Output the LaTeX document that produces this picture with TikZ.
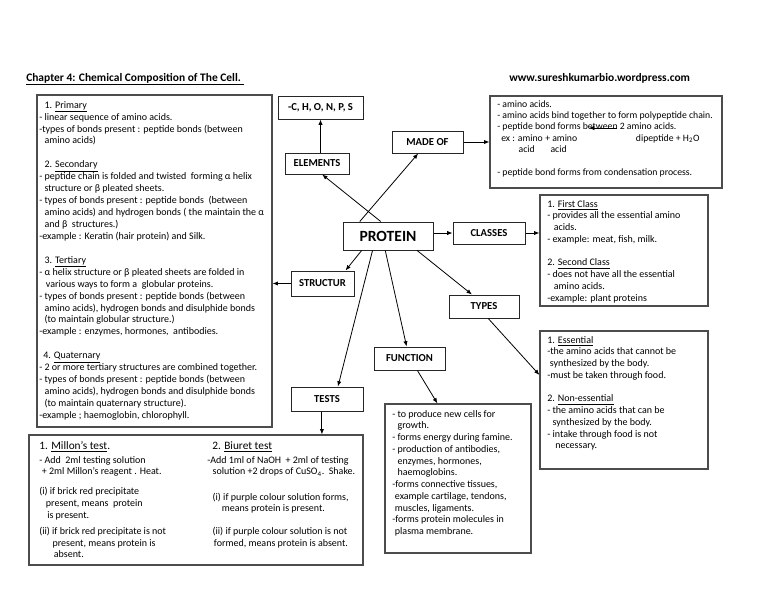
\documentclass[tikz,border=0pt]{standalone}
\usepackage{fontspec}
\setmainfont{Carlito}
\usetikzlibrary{arrows.meta,calc}
\newcommand\mybody{\fontsize{7.5}{8.8}\selectfont}
\newcommand\mystruct{\fontsize{7.5}{8.95}\selectfont}
\newcommand\mysmall{\fontsize{7.3}{8.6}\selectfont}
\tikzset{
  sz/.style 2 args={minimum width=#1*0.75pt, minimum height=#2*0.75pt},
  lbl/.style={draw=black!85, line width=0.75pt, inner sep=0pt, font=\fontsize{8}{9}\selectfont\bfseries},
  tbox/.style={draw=black!70, line width=0.9pt, inner sep=0pt},
  txt/.style={anchor=north west, inner sep=0pt, align=left, font=\mybody},
  arr/.style={line width=0.6pt, -{Latex[length=4pt,width=3.2pt]}},
  hd/.style={anchor=base west, inner sep=0pt, font=\fontsize{8.6}{10}\selectfont\bfseries},
}
\begin{document}
\begin{tikzpicture}[x=0.75pt,y=-0.75pt]
\useasboundingbox (0,0) rectangle (768,594);
\fill[white] (0,0) rectangle (768,594);

% titles
\node[hd] (title) at (26,81) {\underline{Chapter 4: Chemical Composition of The Cell.\ }};
\node[hd] (url) at (509,81) {www.sureshkumarbio.wordpress.com};

% label boxes
\node[lbl, sz={85}{23}] (elemval) at (320.5,107.5) {-C, H, O, N, P, S};
\node[lbl, sz={64}{21}] (elements) at (317,163.5) {ELEMENTS};
\node[lbl, sz={71}{22}] (madeof) at (427.5,142) {MADE OF};
\node[lbl, sz={90}{28}, font=\fontsize{11.7}{13}\selectfont\bfseries] (protein) at (388,236) {PROTEIN};
\node[lbl, sz={72}{22}] (classes) at (489,233) {CLASSES};
\node[lbl, sz={63}{25}] (structur) at (322.5,283.5) {STRUCTUR};
\node[lbl, sz={70}{23}] (types) at (484,306.5) {TYPES};
\node[lbl, sz={71}{23}] (function) at (409.5,358.5) {FUNCTION};
\node[lbl, sz={72}{24}] (tests) at (327,399) {TESTS};

% text boxes
\node[tbox, sz={232}{92}] (madebox) at (606,142) {};
\node[tbox, sz={168}{111}] (classbox) at (624,250.5) {};
\node[tbox, sz={235}{332}] (structbox) at (154.5,261) {};
\node[tbox, sz={168}{138}] (typesbox) at (624,400) {};
\node[tbox, sz={146}{149}] (funcbox) at (458,478.5) {};
\node[tbox, sz={334}{130}] (testsbox) at (196,500) {};

% structure text
\node[txt, font=\mystruct] (structtxt) at (39,101) {%
\hspace*{4pt}1. \underline{Primary}\\
- linear sequence of amino acids.\\
-types of bonds present : peptide bonds (between\\
\hspace*{4pt}amino acids)\\[8.95pt]
\hspace*{4pt}2. \underline{Secondary}\\
- peptide chain is folded and twisted\ \ forming α helix\\
\hspace*{4pt}structure or β pleated sheets.\\
- types of bonds present : peptide bonds\ \ (between\\
\hspace*{4pt}amino acids) and hydrogen bonds ( the maintain the α\\
\hspace*{4pt}and β\ \ structures.)\\
-example : Keratin (hair protein) and Silk.\\[8.95pt]
\hspace*{4pt}3. \underline{Tertiary}\\
- α helix structure or β pleated sheets are folded in\\
\hspace*{5pt}various ways to form a\ \ globular proteins.\\
- types of bonds present : peptide bonds (between\\
\hspace*{4pt}amino acids), hydrogen bonds and disulphide bonds\\
\hspace*{4pt}(to maintain globular structure.)\\
-example : enzymes, hormones,\ \ antibodies.\\[8.95pt]
\hspace*{3pt}4. \underline{Quaternary}\\
- 2 or more tertiary structures are combined together.\\
- types of bonds present : peptide bonds (between\\
\hspace*{4pt}amino acids), hydrogen bonds and disulphide bonds\\
\hspace*{4pt}(to maintain quaternary structure).\\
-example ; haemoglobin, chlorophyll.};

% made of text
\node[txt, font=\mysmall] (madetxt) at (497,100) {%
- amino acids.\\
- amino acids bind together to form polypeptide chain.\\
- peptide bond forms between 2 amino acids.\\
\hspace*{3pt}\makebox[33pt][l]{ex : amino}\makebox[68pt][l]{+ amino}dipeptide + H\textsubscript{2}O\\
\hspace*{16pt}\makebox[24pt][l]{acid}acid\\[8.6pt]
- peptide bond forms from condensation process.};
\coordinate (ma1) at (617,128);
\coordinate (ma2) at (589,128);
\draw[arr, line width=0.5pt] (ma1) -- (ma2);

% classes text
\node[txt] (classtxt) at (547,200) {%
1. \underline{First Class}\\
- provides all the essential amino\\
\hspace*{5pt}acids.\\
- example: meat, fish, milk.\\[8.8pt]
2. \underline{Second Class}\\
- does not have all the essential\\
\hspace*{5pt}amino acids.\\
-example: plant proteins};

% types text
\node[txt] (typestxt) at (547,336) {%
1. \underline{Essential}\\
-the amino acids that cannot be\\
\hspace*{2pt}synthesized by the body.\\
-must be taken through food.\\[8.8pt]
2. \underline{Non-essential}\\
- the amino acids that can be\\
\hspace*{4pt}synthesized by the body.\\
- intake through food is not\\
\hspace*{6pt}necessary.};

% function text
\node[txt] (functxt) at (392,410) {%
- to produce new cells for\\
\hspace*{4pt}growth.\\
- forms energy during famine.\\
- production of antibodies,\\
\hspace*{4pt}enzymes, hormones,\\
\hspace*{4pt}haemoglobins.\\
-forms connective tissues,\\
\hspace*{2pt}example cartilage, tendons,\\
\hspace*{2pt}muscles, ligaments.\\
-forms protein molecules in\\
\hspace*{2pt}plasma membrane.};

% tests text
\node[anchor=base west, inner sep=0pt, font=\fontsize{8.5}{10}\selectfont] (millon) at (39,449) {1. \underline{Millon's test}.};
\node[anchor=base west, inner sep=0pt, font=\fontsize{8.5}{10}\selectfont] (biuret) at (212,449) {2. \underline{Biuret test}};
\node[txt] (milltxt) at (39,456) {%
- Add\ \ 2ml testing solution\\
\hspace*{2pt}+ 2ml Millon's reagent . Heat.\\[6.2pt]
(i) if brick red precipitate\\
\hspace*{5pt}present, means\ \ protein\\
\hspace*{6pt}is present.\\[3.2pt]
(ii) if brick red precipitate is not\\
\hspace*{10pt}present, means protein is\\
\hspace*{11pt}absent.};
\node[txt] (biutxt) at (207,456) {%
-Add 1ml of NaOH\ \ + 2ml of testing\\
\hspace*{4pt}solution +2 drops of CuSO\textsubscript{4}.\ \ Shake.\\[10pt]
\hspace*{4pt}(i) if purple colour solution forms,\\
\hspace*{11pt}means protein is present.\\[8.5pt]
\hspace*{4pt}(ii) if purple colour solution is not\\
\hspace*{5pt}formed, means protein is absent.};

% connectors
\draw[arr] (elemval.south |- elements.north) -- (elemval.south);
\draw[arr] ($(protein.north west)!0.42!(protein.north east)$) -- ($(elements.south west)!0.58!(elements.south east)$);
\draw[arr] ($(protein.north west)!0.19!(protein.north east)$) -- ($(madeof.south west)!0.37!(madeof.south east)$);
\draw[arr] (madeof.east) -- (madeof.east -| madebox.west);
\draw[arr] (protein.east |- classes.west) -- (classes.west);
\draw[arr] (classes.east) -- (classes.east -| classbox.west);
\draw[arr] ($(protein.south west)!0.21!(protein.south east)$) -- ($(structur.north west)!0.86!(structur.north east)$);
\draw[arr] (structur.west) -- (structur.west -| structbox.east);
\draw[arr] ($(protein.south west)!0.82!(protein.south east)$) -- ($(types.north west)!0.33!(types.north east)$);
\draw[arr] ($(types.south west)!0.56!(types.south east)$) -- ($(typesbox.north west)!0.32!(typesbox.south west)$);
\draw[arr] ($(protein.south west)!0.47!(protein.south east)$) -- ($(function.north west)!0.46!(function.north east)$);
\draw[arr] ($(function.south west)!0.61!(function.south east)$) -- ($(funcbox.north west)!0.36!(funcbox.north east)$);
\draw[arr] ($(protein.south west)!0.33!(protein.south east)$) -- ($(tests.north west)!0.65!(tests.north east)$);
\coordinate (tb) at ($(tests.south west)!0.43!(tests.south east)$);
\draw[arr] (tb) -- (tb |- testsbox.north);
\end{tikzpicture}
\end{document}
